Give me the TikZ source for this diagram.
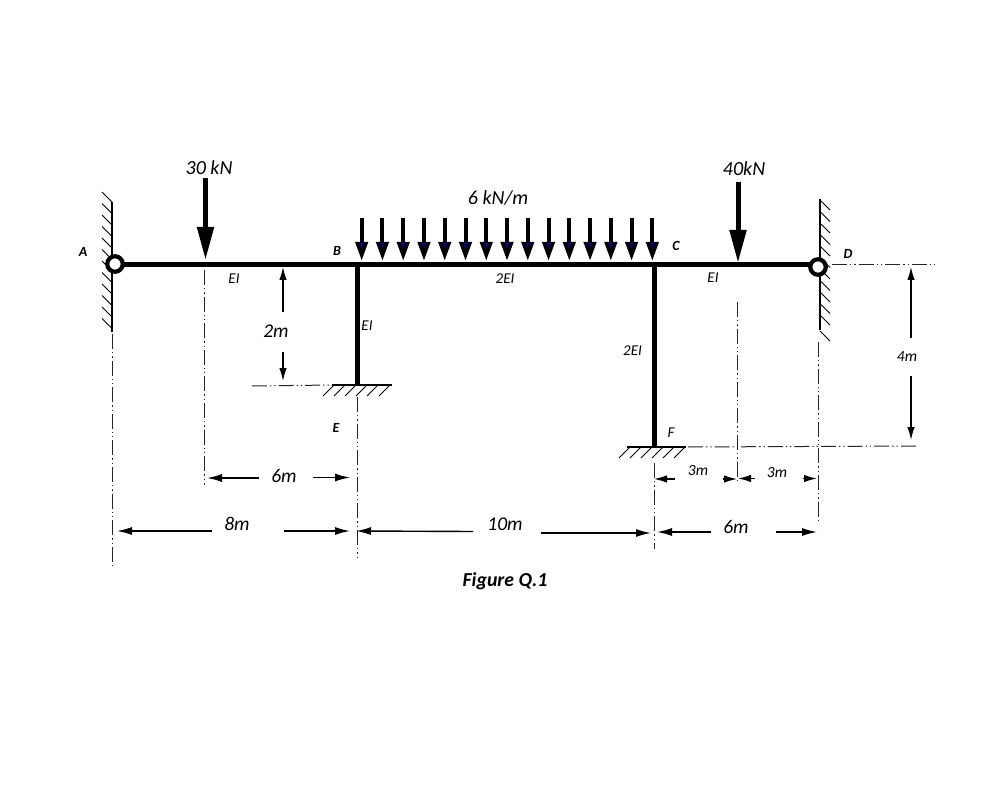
\documentclass[tikz,border=0pt]{standalone}
\usepackage{fontspec}
\setmainfont{Carlito}
\usetikzlibrary{arrows.meta,positioning,calc}

\begin{document}
\begin{tikzpicture}[
    x=1pt, y=-1pt,
    member/.style={line width=5pt},
    wall/.style={line width=1.2pt},
    hatch/.style={line width=1pt},
    axisline/.style={line width=1pt, black!85, dash pattern=on 15pt off 3pt on 1.3pt off 3pt on 1.3pt off 3pt},
    dimline/.style={-{Latex[length=15pt,width=8pt]}, line width=1.4pt},
    smalldim/.style={-{Latex[length=13pt,width=7.5pt]}, line width=1.3pt},
    pointload/.style={-{Triangle[length=33pt,width=16pt]}, line width=5pt},
    udl/.style={-{Triangle[length=19pt,width=12pt]}, line width=4pt},
    hinge/.style={circle, draw, fill=white, line width=4.2pt, minimum size=15.5pt, inner sep=0pt},
    letter/.style={font=\bfseries\itshape\fontsize{14}{14}\selectfont, inner sep=0pt},
    stiff/.style={font=\itshape\fontsize{15}{15}\selectfont, inner sep=0pt},
    loadlabel/.style={font=\itshape\fontsize{20}{20}\selectfont, inner sep=0pt},
    dimlabel/.style={font=\itshape\fontsize{19.5}{20}\selectfont, inner sep=0pt},
    smalllabel/.style={font=\itshape\fontsize{15.5}{16}\selectfont, inner sep=0pt}
]
\useasboundingbox (0,0) rectangle (990,802);

% Joints and supports
\coordinate (jointA) at (115,265);
\coordinate (jointB) at (357,265);
\coordinate (jointC) at (654,265);
\coordinate (jointD) at (818,265);
\coordinate (footE) at (357,385);
\coordinate (footF) at (654,447);
\coordinate (wallAtop) at (112,202);
\coordinate (wallAend) at (112,332);
\coordinate (wallDtop) at (820,199);
\coordinate (wallDend) at (820,330);
\coordinate (groundEl) at (332,385);
\coordinate (groundEr) at (392,385);
\coordinate (groundFl) at (627,447);
\coordinate (groundFr) at (686,447);

% Walls and ground
\draw[wall] (wallAtop) -- (wallAend);
\draw[wall] (wallDtop) -- (wallDend);
\draw[wall] (groundEl) -- (groundEr);
\draw[wall] (groundFl) -- (groundFr);
\foreach \y in {202,213.5,225,236.5,248,259.5,271,282.5,294,305.5,317,328.5}
    \draw[hatch] (112,\y) -- ++(-10,-10);
\foreach \y in {200,211.5,223,234.5,246,257.5,269,280.5,292,303.5,315,331}
    \draw[hatch] (820,\y) -- ++(10,10);
\foreach \x in {334,345,356,367,378,390}
    \draw[hatch] (\x,385) -- ++(-11,11);
\foreach \x in {630,641,652,663,674,685}
    \draw[hatch] (\x,447) -- ++(-11,11);

% Centre lines
\coordinate (axisAtop) at (112,334);  \coordinate (axisAend) at (112,565);
\coordinate (axisPtop) at (204,270);  \coordinate (axisPend) at (204,485);
\coordinate (axisEtop) at (357,397);  \coordinate (axisEend) at (357,558);
\coordinate (axisFtop) at (654,463);  \coordinate (axisFend) at (654,549);
\coordinate (axisQtop) at (737,302);  \coordinate (axisQend) at (737,480);
\coordinate (axisDtop) at (818.5,342);  \coordinate (axisDend) at (818.5,523);
\coordinate (levelEl) at (252,386);  \coordinate (levelEr) at (332,385);
\coordinate (levelDl) at (832,265);  \coordinate (levelDr) at (938,265);
\coordinate (levelFl) at (688,447);  \coordinate (levelFr) at (918,446);
\draw[axisline] (axisAtop) -- (axisAend);
\draw[axisline] (axisPtop) -- (axisPend);
\draw[axisline] (axisEtop) -- (axisEend);
\draw[axisline] (axisFtop) -- (axisFend);
\draw[axisline] (axisQtop) -- (axisQend);
\draw[axisline] (axisDtop) -- (axisDend);
\draw[axisline] (levelEl) -- (levelEr);
\draw[axisline] (levelDl) -- (levelDr);
\draw[axisline] (levelFl) -- (levelFr);

% Frame
\draw[member] (jointA) -- (jointB) -- (jointC) -- (jointD);
\draw[member] (jointB) -- (footE);
\draw[member] (jointC) -- (footF);
\node[hinge] (hingeA) at (115,264) {};
\node[hinge] (hingeD) at (818,267) {};

% Point loads
\coordinate (loadPtop) at (205.5,178);  \coordinate (loadPtip) at (205.5,260);
\coordinate (loadQtop) at (738,182);  \coordinate (loadQtip) at (738,263);
\draw[pointload] (loadPtop) -- (loadPtip);
\draw[pointload] (loadQtop) -- (loadQtip);
\node[loadlabel] (lab30) at (209,168) {30 kN};
\node[loadlabel] (lab40) at (744,169) {40kN};

% Distributed load
\foreach \i in {0,...,14} {
    \coordinate (udltop\i) at ({361.7+20.76*\i},218);
    \coordinate (udltip\i) at ({361.7+20.76*\i},261);
    \draw[udl] (udltop\i) -- (udltip\i);
    \fill[blue!80!black] ($(udltop\i)+(-1.4,25)$) -- ($(udltop\i)+(1.4,25)$) -- ($(udltop\i)+(0,31)$) -- cycle;
}
\node[loadlabel] (labudl) at (498,198) {6 kN/m};

% Letters and stiffness
\node[letter] (labA) at (83,252) {A};
\node[letter] (labB) at (337,251) {B};
\node[letter] (labC) at (676,246) {C};
\node[letter] (labD) at (848,254) {D};
\node[letter] (labE) at (336,428) {E};
\node[stiff] (labF) at (671,433) {F};
\node[stiff] (stiffAB) at (234,279) {EI};
\node[stiff] (stiffBE) at (367,326) {EI};
\node[stiff] (stiffBC) at (505,279) {2EI};
\node[stiff] (stiffCF) at (632.5,351) {2EI};
\node[stiff] (stiffCD) at (713,278) {EI};

% Dimensions
\coordinate (d2s) at (283,312);  \coordinate (d2t) at (283,267);
\coordinate (d2u) at (283,352);  \coordinate (d2v) at (283,381);
\draw[smalldim] (d2s) -- (d2t);
\draw[smalldim] (d2u) -- (d2v);
\node[dimlabel] (lab2m) at (276,331) {2m};

\coordinate (d4s) at (911,338);  \coordinate (d4t) at (911,267);
\coordinate (d4u) at (911,376);  \coordinate (d4v) at (911,440);
\draw[smalldim] (d4s) -- (d4t);
\draw[smalldim] (d4u) -- (d4v);
\node[smalllabel] (lab4m) at (907,357) {4m};

\coordinate (d6s) at (259,478);  \coordinate (d6t) at (207,478);
\coordinate (d6u) at (313,477.5);  \coordinate (d6v) at (350,477.5);
\draw[dimline] (d6s) -- (d6t);
\draw[dimline] (d6u) -- (d6v);
\node[dimlabel] (lab6m) at (284,476) {6m};

\coordinate (d8s) at (212,531);  \coordinate (d8t) at (117,531);
\coordinate (d8u) at (284,531);  \coordinate (d8v) at (350,531);
\draw[dimline] (d8s) -- (d8t);
\draw[dimline] (d8u) -- (d8v);
\node[dimlabel] (lab8m) at (237,524) {8m};

\coordinate (d10s) at (473,531.5);  \coordinate (d10t) at (356,531);
\coordinate (d10u) at (541,533);  \coordinate (d10v) at (651,533);
\draw[dimline] (d10s) -- (d10t);
\draw[dimline] (d10u) -- (d10v);
\node[dimlabel] (lab10m) at (505,524) {10m};

\coordinate (d6Rs) at (711,532);  \coordinate (d6Rt) at (657,532);
\coordinate (d6Ru) at (776,532);  \coordinate (d6Rv) at (817,532);
\draw[dimline] (d6Rs) -- (d6Rt);
\draw[dimline] (d6Ru) -- (d6Rv);
\node[dimlabel] (lab6mR) at (736,527) {6m};

\coordinate (d3s) at (675,479);  \coordinate (d3t) at (654,479);
\coordinate (d3u) at (723,479);  \coordinate (d3v) at (737,479);
\coordinate (d3w) at (755,478.5);  \coordinate (d3x) at (738,478.5);
\coordinate (d3y) at (803,478.5);  \coordinate (d3z) at (817,478.5);
\draw[smalldim] (d3s) -- (d3t);
\draw[smalldim] (d3u) -- (d3v);
\draw[smalldim] (d3w) -- (d3x);
\draw[smalldim] (d3y) -- (d3z);
\node[smalllabel] (lab3a) at (698,471) {3m};
\node[smalllabel] (lab3b) at (777,473) {3m};

% Caption
\node[font=\bfseries\itshape\fontsize{19.8}{20}\selectfont, inner sep=0pt] (caption) at (505,581) {Figure Q.1};
\end{tikzpicture}
\end{document}
